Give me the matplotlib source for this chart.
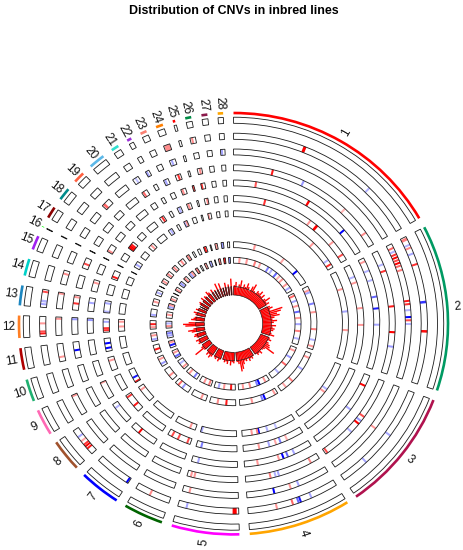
import matplotlib
matplotlib.use("Agg")
import matplotlib.pyplot as plt
from matplotlib.patches import Wedge, Arc
from matplotlib.colors import LinearSegmentedColormap
import numpy as np

# ---------------- data ----------------
chrom_names = [str(i) for i in range(1, 29)]
chrom_lengths = [195.28, 148.81, 110.45, 90.22, 59.58, 34.95, 36.25, 28.77, 23.44,
                 19.91, 19.40, 19.90, 17.76, 15.16, 12.66, 0.54, 10.45, 11.22, 9.98,
                 14.30, 6.80, 4.08, 5.72, 6.32, 2.19, 5.33, 5.21, 4.74]
chrom_colors = ['#FF0000', '#009A62', '#B0124E', '#FFA500', '#FF00FF', '#006400',
                '#0000FF', '#A0522D', '#FF69B4', '#20B070', '#B00000', '#FF7F24',
                '#1C86C0', '#00D0C8', '#A020F0', '#00FF00', '#8B0000', '#008B8B',
                '#FF6040', '#5CB8E8', '#30E0D0', '#9A30D8', '#FA8072', '#FF7F00',
                '#FF0000', '#008B45', '#8B1A4A', '#FFA500']

# CNV segments per line (track): (chromosome, start Mb, end Mb, value; +gain / -loss)
marks_t1 = []
marks_t2 = [(1, 69, 72, 1.0), (1, 144, 146, -0.3),
            (2, 1, 4, 0.5), (2, 8, 9.5, -0.3), (2, 11, 12.5, 0.45), (2, 17, 19, -0.35),
            (2, 28, 30, 0.8), (2, 66, 68.5, -0.8), (2, 95, 97.5, 0.95),
            (3, 47, 49, -0.35), (3, 82, 84, -0.35),
            (4, 26, 28, -0.35), (4, 37, 39, -0.9), (4, 39.5, 41, -0.6), (4, 45, 47, 0.6), (4, 61, 63, 0.4),
            (5, 2, 6, 1.0), (5, 50, 52, -0.35), (6, 19, 21, 0.45), (7, 0.5, 2.5, -1.0),
            (8, 6, 7.5, 0.9), (8, 8.5, 10.5, 1.0), (8, 11, 12.5, 0.8), (8, 15, 17, 0.35), (8, 20, 22, -0.35),
            (12, 2, 4, 0.9), (12, 4.5, 5.5, 0.7), (12, 12, 14, 0.4),
            (13, 2.5, 4, -0.35), (13, 5, 7.5, -0.3), (13, 14.5, 16.5, 0.7),
            (24, 0.5, 6, 0.45), (26, 1, 3, 0.45)]
marks_t3 = [(2, 4, 5.5, 0.6), (2, 8, 9.5, -0.3), (2, 11.5, 13, 0.8), (2, 14.5, 16.5, 1.0),
            (2, 18, 19.5, 0.7), (2, 21, 23, 1.0), (2, 24.5, 26, 0.6), (2, 29, 31, 0.5),
            (2, 63, 65, 0.9), (2, 66.5, 68.5, 0.8), (2, 73, 75, -0.3), (2, 80.5, 82.5, -1.0),
            (2, 84, 86, 0.7), (2, 88, 90, -0.3),
            (3, 50, 52, 0.4), (4, 33, 35, -0.35), (4, 42, 44, 0.4), (4, 60, 62, -1.0),
            (5, 51, 53, 0.4), (9, 21.5, 23, 0.4), (11, 4, 6, 0.4), (12, 17, 19, 0.4),
            (13, 15.5, 17.5, 0.4), (14, 10.5, 12.5, 0.45), (19, 1, 4, 0.6), (21, 2.5, 4.5, -0.25),
            (22, 0.5, 2, -0.35), (24, 1.5, 3.5, -0.35), (28, 0.5, 2.5, -0.35)]
marks_t4 = [(1, 45, 47, 0.9), (1, 83, 85, -0.4), (1, 141, 143, 0.3), (1, 178, 180, 0.45),
            (2, 16, 18, -0.3), (2, 24, 26, 0.8), (2, 67, 69, 0.9), (2, 97.5, 100, 1.0), (2, 115, 117, -0.4),
            (3, 47, 49, 0.7), (3, 53, 55, -0.4), (3, 57, 59.5, 1.0), (3, 70, 72, -0.3), (3, 107, 109, 0.7),
            (4, 10, 12, 0.45), (4, 50, 52, -0.35), (4, 54, 56, -0.3), (4, 60, 62, 0.5),
            (5, 50, 52, 0.4), (5, 54, 56, 0.4), (11, 8.5, 10.5, -1.0), (12, 17, 19, -0.4),
            (13, 7, 9, 0.8), (13, 14.5, 16.5, 0.4), (15, 4.5, 6.5, 0.7), (21, 1, 3, 0.6),
            (23, 1, 3, -0.35), (24, 2.5, 4.5, 0.8), (26, 2, 4, 0.45)]
marks_t5 = [(1, 28, 30, 0.65), (1, 100, 103, 1.0), (1, 159, 161.5, -1.0),
            (2, 4, 5.5, 0.4), (2, 17, 18.5, -0.3), (2, 30, 31.5, -0.3), (2, 52, 54, -0.6),
            (2, 67.5, 69.5, -0.9), (2, 89, 91, -0.35),
            (3, 13.5, 15.5, 1.0), (3, 49.5, 51.5, -0.35),
            (4, 23, 25, -0.35), (4, 32, 34, -0.6), (4, 38, 40, -1.0), (4, 44, 46, 0.4), (4, 72, 74, 0.4),
            (5, 50, 52, -0.35), (7, 23, 25.5, 1.0), (8, 22, 24, -0.3), (9, 22, 23.4, 0.4),
            (12, 16.5, 18.5, -0.4), (13, 10, 12.5, -0.35), (14, 10.5, 12.5, 0.4), (17, 1, 2.5, 0.45),
            (24, 1, 3, 0.45), (25, 0.3, 1.8, 0.7), (26, 0.2, 1.8, 0.8)]
marks_t6 = [(1, 45, 47, 0.8), (1, 117, 119, 0.4), (1, 128, 132, 1.0), (1, 162, 164, 0.4), (1, 185, 187, 0.7),
            (2, 17.5, 19.5, -0.3), (2, 26, 28, 0.4), (2, 64.5, 66.5, 0.4), (2, 89.5, 91.5, 0.4),
            (4, 24, 26, 0.3), (4, 34, 36, -0.5), (4, 41, 43, 0.35), (4, 51, 53, -0.35), (4, 66, 68, 0.4),
            (5, 51, 53, -0.5), (6, 3.5, 5.5, 0.7), (6, 18, 20, 0.7), (6, 27.5, 29.5, 0.7),
            (8, 9, 11, 0.9), (8, 24.5, 26.5, 0.8), (10, 14, 16, 0.4), (11, 4, 6, -1.0), (11, 11, 13, -1.0),
            (12, 2, 4, 0.8), (12, 5, 7, 0.8), (12, 14.5, 16.5, -0.35), (13, 1, 2.5, -0.3), (13, 13, 15, -0.35),
            (15, 2, 4.5, 0.9), (18, 1, 2.5, 1.0), (18, 3.5, 5, 1.0), (18, 6, 7.5, 0.9),
            (21, 3, 5, 0.8), (23, 2, 4, -0.3), (24, 1.5, 3.5, 0.45), (26, 3, 5, 0.45)]
marks_t7 = [(1, 143, 145, 0.4), (1, 180, 182, -0.3), (1, 188, 190, 0.8),
            (2, 29, 31, 0.4), (2, 67, 69, -0.35), (2, 98.5, 100.5, 0.4),
            (3, 45.5, 47.5, -0.3), (3, 51.5, 53.5, 0.4),
            (4, 32, 34, -0.25), (4, 47, 49, -0.3), (4, 61, 63.5, -1.0), (4, 64, 65.5, 0.5), (4, 73, 75, 0.4),
            (5, 57, 59, -0.35), (6, 8, 10, 0.4), (8, 22, 24, 0.4), (9, 0.3, 2, 0.9), (9, 8, 10, -0.9),
            (12, 7, 9, 0.4), (12, 15, 17, 0.4), (17, 4, 6, -0.35), (19, 4.5, 6.5, 0.4),
            (21, 3, 5, -0.3), (23, 0.2, 1.5, -0.3), (23, 3.5, 5, 0.4), (26, 0.2, 1.5, 0.4)]
marks_t8 = [(1, 47, 51, 0.4), (1, 160, 164, -1.0), (1, 120, 123, 0.35),
            (2, 8, 11, 0.4), (2, 13, 16, -0.35), (2, 40, 43, -0.5), (2, 60, 63, 0.4), (2, 100, 103, 0.5),
            (2, 125, 128, -0.3), (2, 140, 143, 0.4),
            (3, 10, 13, 0.4), (3, 40, 43, -0.35), (3, 75, 78, 0.5), (3, 95, 98, 0.35),
            (4, 5, 8, 0.4), (4, 30, 33, -1.0), (4, 36, 39, -0.5), (4, 60, 63, 0.4),
            (5, 20, 23, 0.9), (5, 40, 43, 0.45), (6, 10, 13, 0.4), (7, 15, 18, -0.4), (7, 26, 29, 0.6),
            (8, 10, 13, 0.45), (9, 5, 8, -0.4), (9, 16, 19, 0.4), (10, 8, 11, 0.9), (11, 12, 15, 0.4),
            (11, 3, 6, -0.35), (12, 10, 13, 0.9), (12, 3, 6, 0.4),
            (13, 3, 6, -0.35), (14, 7, 10, 0.4), (15, 5, 8, -0.3), (17, 3, 6, 0.4), (18, 3, 6, 0.45),
            (19, 3, 6, 0.45), (20, 6, 9, 0.45), (21, 2, 5, 0.45),
            (24, 1, 4, 0.9), (26, 1, 3.5, 0.4), (27, 1, 3, -0.4)]
marks_t9 = [(1, 15, 19, 0.4), (1, 36, 40, 0.4), (1, 60, 64, 0.5), (1, 75, 79, 0.35), (1, 100, 104, -0.5),
            (1, 112, 116, -0.3), (1, 128, 132, -0.6), (1, 140, 144, 0.3), (1, 152, 156, 0.4),
            (1, 170, 174, 0.4), (1, 183, 187, -0.35),
            (2, 5, 9, 0.6), (2, 20, 24, -0.35), (2, 35, 39, 0.4), (2, 52, 56, -0.6), (2, 70, 74, 0.4),
            (2, 88, 92, -0.35), (2, 108, 112, 0.5), (2, 130, 134, -0.3),
            (3, 8, 12, 0.4), (3, 30, 34, -0.4), (3, 55, 59, 0.6), (3, 85, 89, -0.3),
            (4, 10, 14, 0.4), (4, 28, 32, -1.0), (4, 35, 38, -0.5), (4, 55, 59, 0.45), (4, 75, 79, 0.4),
            (5, 10, 14, 0.9), (5, 30, 34, 0.4), (5, 45, 49, -0.35), (6, 5, 8, 0.5), (6, 20, 23, 0.4),
            (7, 8, 11, -0.5), (7, 25, 28, 0.4), (8, 5, 8, 0.4), (8, 18, 21, -0.3), (9, 4, 7, -0.6),
            (9, 15, 18, 0.4), (10, 6, 9, -0.9), (10, 14, 17, 0.4), (11, 5, 8, -0.35), (11, 12, 15, -0.5),
            (12, 4, 7, 0.45), (12, 12, 15, -0.3), (13, 8, 11, 0.4), (14, 4, 7, -0.35), (14, 10, 13, 0.4),
            (15, 3, 6, 0.4), (17, 2, 5, 0.45), (18, 4, 7, -0.4), (19, 2, 5, 0.45), (20, 3, 6, -0.35),
            (20, 9, 12, 0.4), (21, 2, 5, 0.5), (23, 1, 4, 0.4), (24, 2, 5, -0.35), (26, 1, 4, 0.45),
            (27, 1, 4, 0.9), (28, 1, 4, -0.4)]

# CNV counts per 8 Mb window, per chromosome (central histogram)
hist_bin_mb = 8
hist_counts = [
    [9, 12, 7, 10, 14, 8, 11, 9, 13, 10, 7, 12, 15, 9, 8, 11, 10, 13, 9, 12, 8, 10, 14, 9, 11],
    [10, 12, 9, 20, 18, 14, 16, 11, 9, 13, 10, 8, 12, 9, 11, 10, 8, 9, 12],
    [9, 11, 8, 10, 12, 13, 19, 10, 9, 8, 11, 9, 10, 8],
    [8, 10, 9, 11, 8, 10, 9, 12, 16, 18, 11, 9],
    [10, 9, 12, 8, 11, 9, 10, 8],
    [9, 11, 8, 10, 9],
    [10, 12, 9, 11, 8],
    [9, 18, 10, 8],
    [10, 9, 11],
    [9, 11, 10],
    [12, 15, 10],
    [17, 19, 14],
    [12, 10, 9],
    [9, 11],
    [10, 8],
    [5],
    [9, 10],
    [8, 11],
    [10, 9],
    [12, 10],
    [11], [9], [14], [13], [8], [12], [10], [15],
]

title = "Distribution of CNVs in inbred lines"

# ---------------- layout ----------------
GAP = 2.77
deg_per_mb = (360.0 - GAP * len(chrom_lengths)) / sum(chrom_lengths)
starts = []
acc = 0.0
for L in chrom_lengths:
    starts.append(acc)
    acc += L * deg_per_mb + GAP

def theta(ci, pos):
    return starts[ci] + pos * deg_per_mb

def phi(th):
    return 90.0 - th

tracks = [(0.951, 0.980), (0.875, 0.904), (0.801, 0.829), (0.726, 0.754),
          (0.654, 0.682), (0.579, 0.608), (0.508, 0.536), (0.361, 0.389), (0.287, 0.315)]
track_marks = [marks_t1, marks_t2, marks_t3, marks_t4, marks_t5, marks_t6, marks_t7, marks_t8, marks_t9]
ring = (0.136, 0.176)
PX = 210.7

cmap = LinearSegmentedColormap.from_list('cnv', ['#0000FF', '#FFFFFF', '#FF0000'])

fig = plt.figure(figsize=(4.64, 5.5), dpi=100)
ax = fig.add_axes([0, 0, 1, 1])
ax.set_xlim(-233.5 / 214.5, (464 - 233.5) / 214.5)
ax.set_ylim((323.7 - 550) / PX, 323.7 / PX)
ax.axis('off')

edge = '#1a1a1a'
for (rin, rout), marks in zip(tracks, track_marks):
    for ci, L in enumerate(chrom_lengths):
        t0, t1 = theta(ci, 0), theta(ci, L)
        ax.add_patch(Wedge((0, 0), rout, phi(t1), phi(t0), width=rout - rin,
                           facecolor='white', edgecolor='none', zorder=2))
    rmid = 0.5 * (rin + rout)
    min_deg = np.degrees(2.0 / (rmid * PX))
    for (c, s, e, v) in marks:
        ci = c - 1
        t0, t1 = theta(ci, s), theta(ci, e)
        if t1 - t0 < min_deg:
            m = 0.5 * (t0 + t1)
            t0, t1 = m - min_deg / 2, m + min_deg / 2
        t0 = max(t0, theta(ci, 0))
        t1 = min(t1, theta(ci, chrom_lengths[ci]))
        ax.add_patch(Wedge((0, 0), rout, phi(t1), phi(t0), width=rout - rin,
                           facecolor=cmap(0.5 + 0.5 * v), edgecolor='none', zorder=3))
    for ci, L in enumerate(chrom_lengths):
        t0, t1 = theta(ci, 0), theta(ci, L)
        ax.add_patch(Wedge((0, 0), rout, phi(t1), phi(t0), width=rout - rin,
                           facecolor='none', edgecolor=edge, lw=0.6, zorder=4))

# inner ring + histogram
for ci, L in enumerate(chrom_lengths):
    t0, t1 = theta(ci, 0), theta(ci, L)
    ax.add_patch(Wedge((0, 0), ring[1], phi(t1), phi(t0), width=ring[1] - ring[0],
                       facecolor='#cfcfcf', edgecolor='none', zorder=2))
count_scale = 1.1 / PX
for ci, counts in enumerate(hist_counts):
    L = chrom_lengths[ci]
    n = len(counts)
    for i, cnt in enumerate(counts):
        if L < hist_bin_mb * n:
            pos = L * (i + 0.5) / n
        else:
            pos = (i + 0.5) * hist_bin_mb
        a = np.radians(phi(theta(ci, pos)))
        r0, r1 = ring[0], ring[0] + cnt * count_scale
        ax.plot([r0 * np.cos(a), r1 * np.cos(a)], [r0 * np.sin(a), r1 * np.sin(a)],
                color='#FF0000', lw=1.0, solid_capstyle='butt', zorder=5)
for ci, L in enumerate(chrom_lengths):
    t0, t1 = theta(ci, 0), theta(ci, L)
    ax.add_patch(Wedge((0, 0), ring[1], phi(t1), phi(t0), width=ring[1] - ring[0],
                       facecolor='none', edgecolor=edge, lw=0.45, zorder=6))

# outer ideogram arcs and labels
for ci, L in enumerate(chrom_lengths):
    t0, t1 = theta(ci, 0), theta(ci, L)
    ax.add_patch(Arc((0, 0), 2.0, 2.0, theta1=phi(t1), theta2=phi(t0),
                     color=chrom_colors[ci], lw=1.9, zorder=5))
    tm = 0.5 * (t0 + t1)
    p = phi(tm) % 360
    if p > 180:
        p -= 360
    if p > 90:
        rot = p - 180
    elif p < -90:
        rot = p + 180
    else:
        rot = p
    a = np.radians(phi(tm))
    ax.text(1.047 * np.cos(a), 1.047 * np.sin(a), chrom_names[ci], rotation=rot,
            rotation_mode='anchor', ha='center', va='center', fontsize=8.5,
            family='Liberation Sans', color='#111111', zorder=7)

fig.text(0.504, 1 - 10.5 / 550, title, ha='center', va='center', fontsize=8.9,
         fontweight='bold', family='Liberation Sans')

fig.savefig('out.png', dpi=100)
